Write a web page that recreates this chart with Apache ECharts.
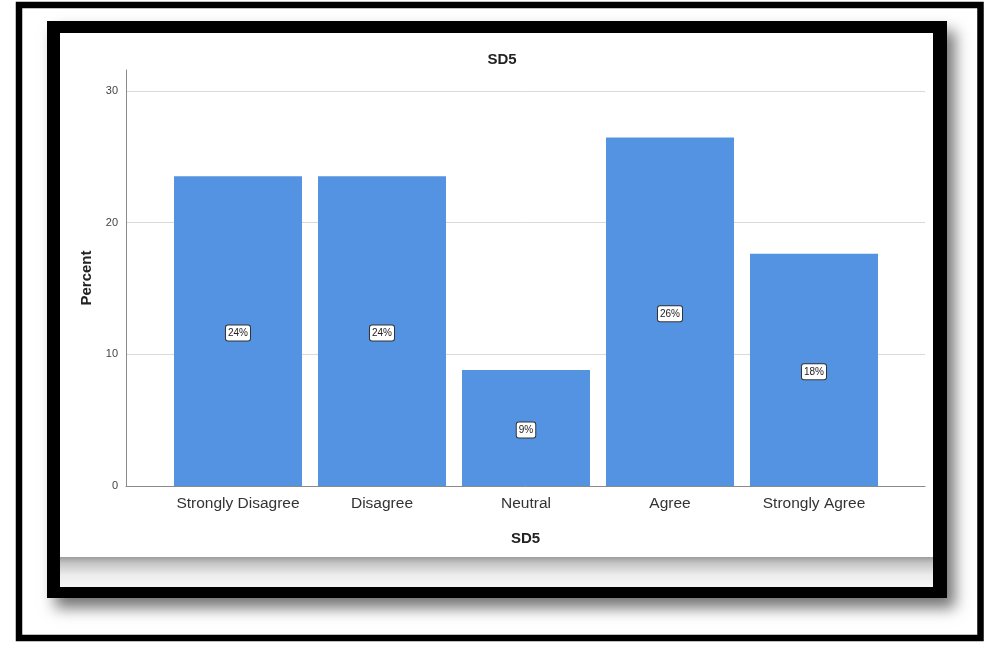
<!DOCTYPE html>
<html>
<head>
<meta charset="utf-8">
<script src="https://cdn.jsdelivr.net/npm/echarts@6/dist/echarts.min.js"></script>
<style>html,body{margin:0;padding:0;background:#fff}#main{width:996px;height:658px}</style>
</head>
<body>
<div id="main"></div>
<script>
const chartTitle = 'SD5';
const xAxisTitle = 'SD5';
const yAxisTitle = 'Percent';
const categories = ['Strongly Disagree', 'Disagree', 'Neutral', 'Agree', 'Strongly Agree'];
const percents = [23.53, 23.53, 8.82, 26.47, 17.65];
const barLabels = ['24%', '24%', '9%', '26%', '18%'];
const yMax = 31.6;

const chart = echarts.init(document.getElementById('main'), null, {renderer: 'canvas'});
const font = 'Arial';

chart.setOption({
  animation: false,
  backgroundColor: '#fff',
  textStyle: {fontFamily: font},
  title: {
    text: chartTitle, left: 497, top: 47, textAlign: 'center',
    textStyle: {fontSize: 15, fontWeight: 'bold', color: '#222', fontFamily: font}
  },
  graphic: [
    {type: 'rect', z: -20, shape: {x: 19, y: 5, width: 961.5, height: 633}, style: {fill: 'none', stroke: '#000', lineWidth: 6.5}},
    {type: 'rect', z: -19, shape: {x: 47, y: 21, width: 900, height: 577},
      style: {fill: '#000', shadowBlur: 14, shadowOffsetX: 8, shadowOffsetY: 10, shadowColor: 'rgba(0,0,0,0.55)'}},
    {type: 'rect', z: -18, shape: {x: 60, y: 33, width: 873, height: 554}, style: {fill: '#fff'}},
    {type: 'rect', z: -17, shape: {x: 60, y: 557, width: 873, height: 30},
      style: {fill: new echarts.graphic.LinearGradient(0, 0, 0, 1, [
        {offset: 0, color: '#9c9c9c'}, {offset: 0.2, color: '#c4c4c4'},
        {offset: 0.6, color: '#ececec'}, {offset: 1, color: '#f6f6f6'}])}}
  ],
  grid: [
    {left: 126, right: 71, top: 70, bottom: 172},
    {left: 166, right: 110, top: 70, bottom: 172}
  ],
  xAxis: [
    {type: 'category', gridIndex: 0, data: [''],
      axisLine: {show: true, lineStyle: {color: '#8a8a8a', width: 1}},
      axisTick: {show: false}, axisLabel: {show: false},
      name: xAxisTitle, nameLocation: 'middle', nameGap: 45,
      nameTextStyle: {fontSize: 15, fontWeight: 'bold', color: '#222', fontFamily: font}},
    {type: 'category', gridIndex: 1, data: categories,
      axisLine: {show: false}, axisTick: {show: false},
      axisLabel: {interval: 0, fontSize: 15.5, color: '#333', margin: 10, fontFamily: font}}
  ],
  yAxis: [
    {type: 'value', gridIndex: 0, min: 0, max: yMax, interval: 10,
      axisLine: {show: true, lineStyle: {color: '#8a8a8a', width: 1}},
      axisTick: {show: false},
      axisLabel: {fontSize: 11, color: '#444', margin: 8, showMaxLabel: false, fontFamily: font,
        formatter: v => (v % 10 === 0 ? String(v) : '')},
      splitLine: {show: true, showMaxLine: false, lineStyle: {color: '#d9d9d9', width: 1}},
      name: yAxisTitle, nameLocation: 'middle', nameGap: 32, nameRotate: 90,
      nameTextStyle: {fontSize: 15, fontWeight: 'bold', color: '#222', fontFamily: font}},
    {type: 'value', gridIndex: 1, min: 0, max: yMax, show: false, splitLine: {show: false}}
  ],
  series: [{
    type: 'bar', xAxisIndex: 1, yAxisIndex: 1,
    data: percents, barWidth: 128,
    itemStyle: {color: '#5493e2'},
    label: {
      show: true, position: 'inside', offset: [0, 2],
      formatter: p => barLabels[p.dataIndex],
      fontSize: 10, color: '#222', fontFamily: font,
      backgroundColor: '#fff', borderColor: '#333', borderWidth: 1, borderRadius: 2,
      padding: [3, 2, 2, 2]
    }
  }]
});
</script>
</body>
</html>
